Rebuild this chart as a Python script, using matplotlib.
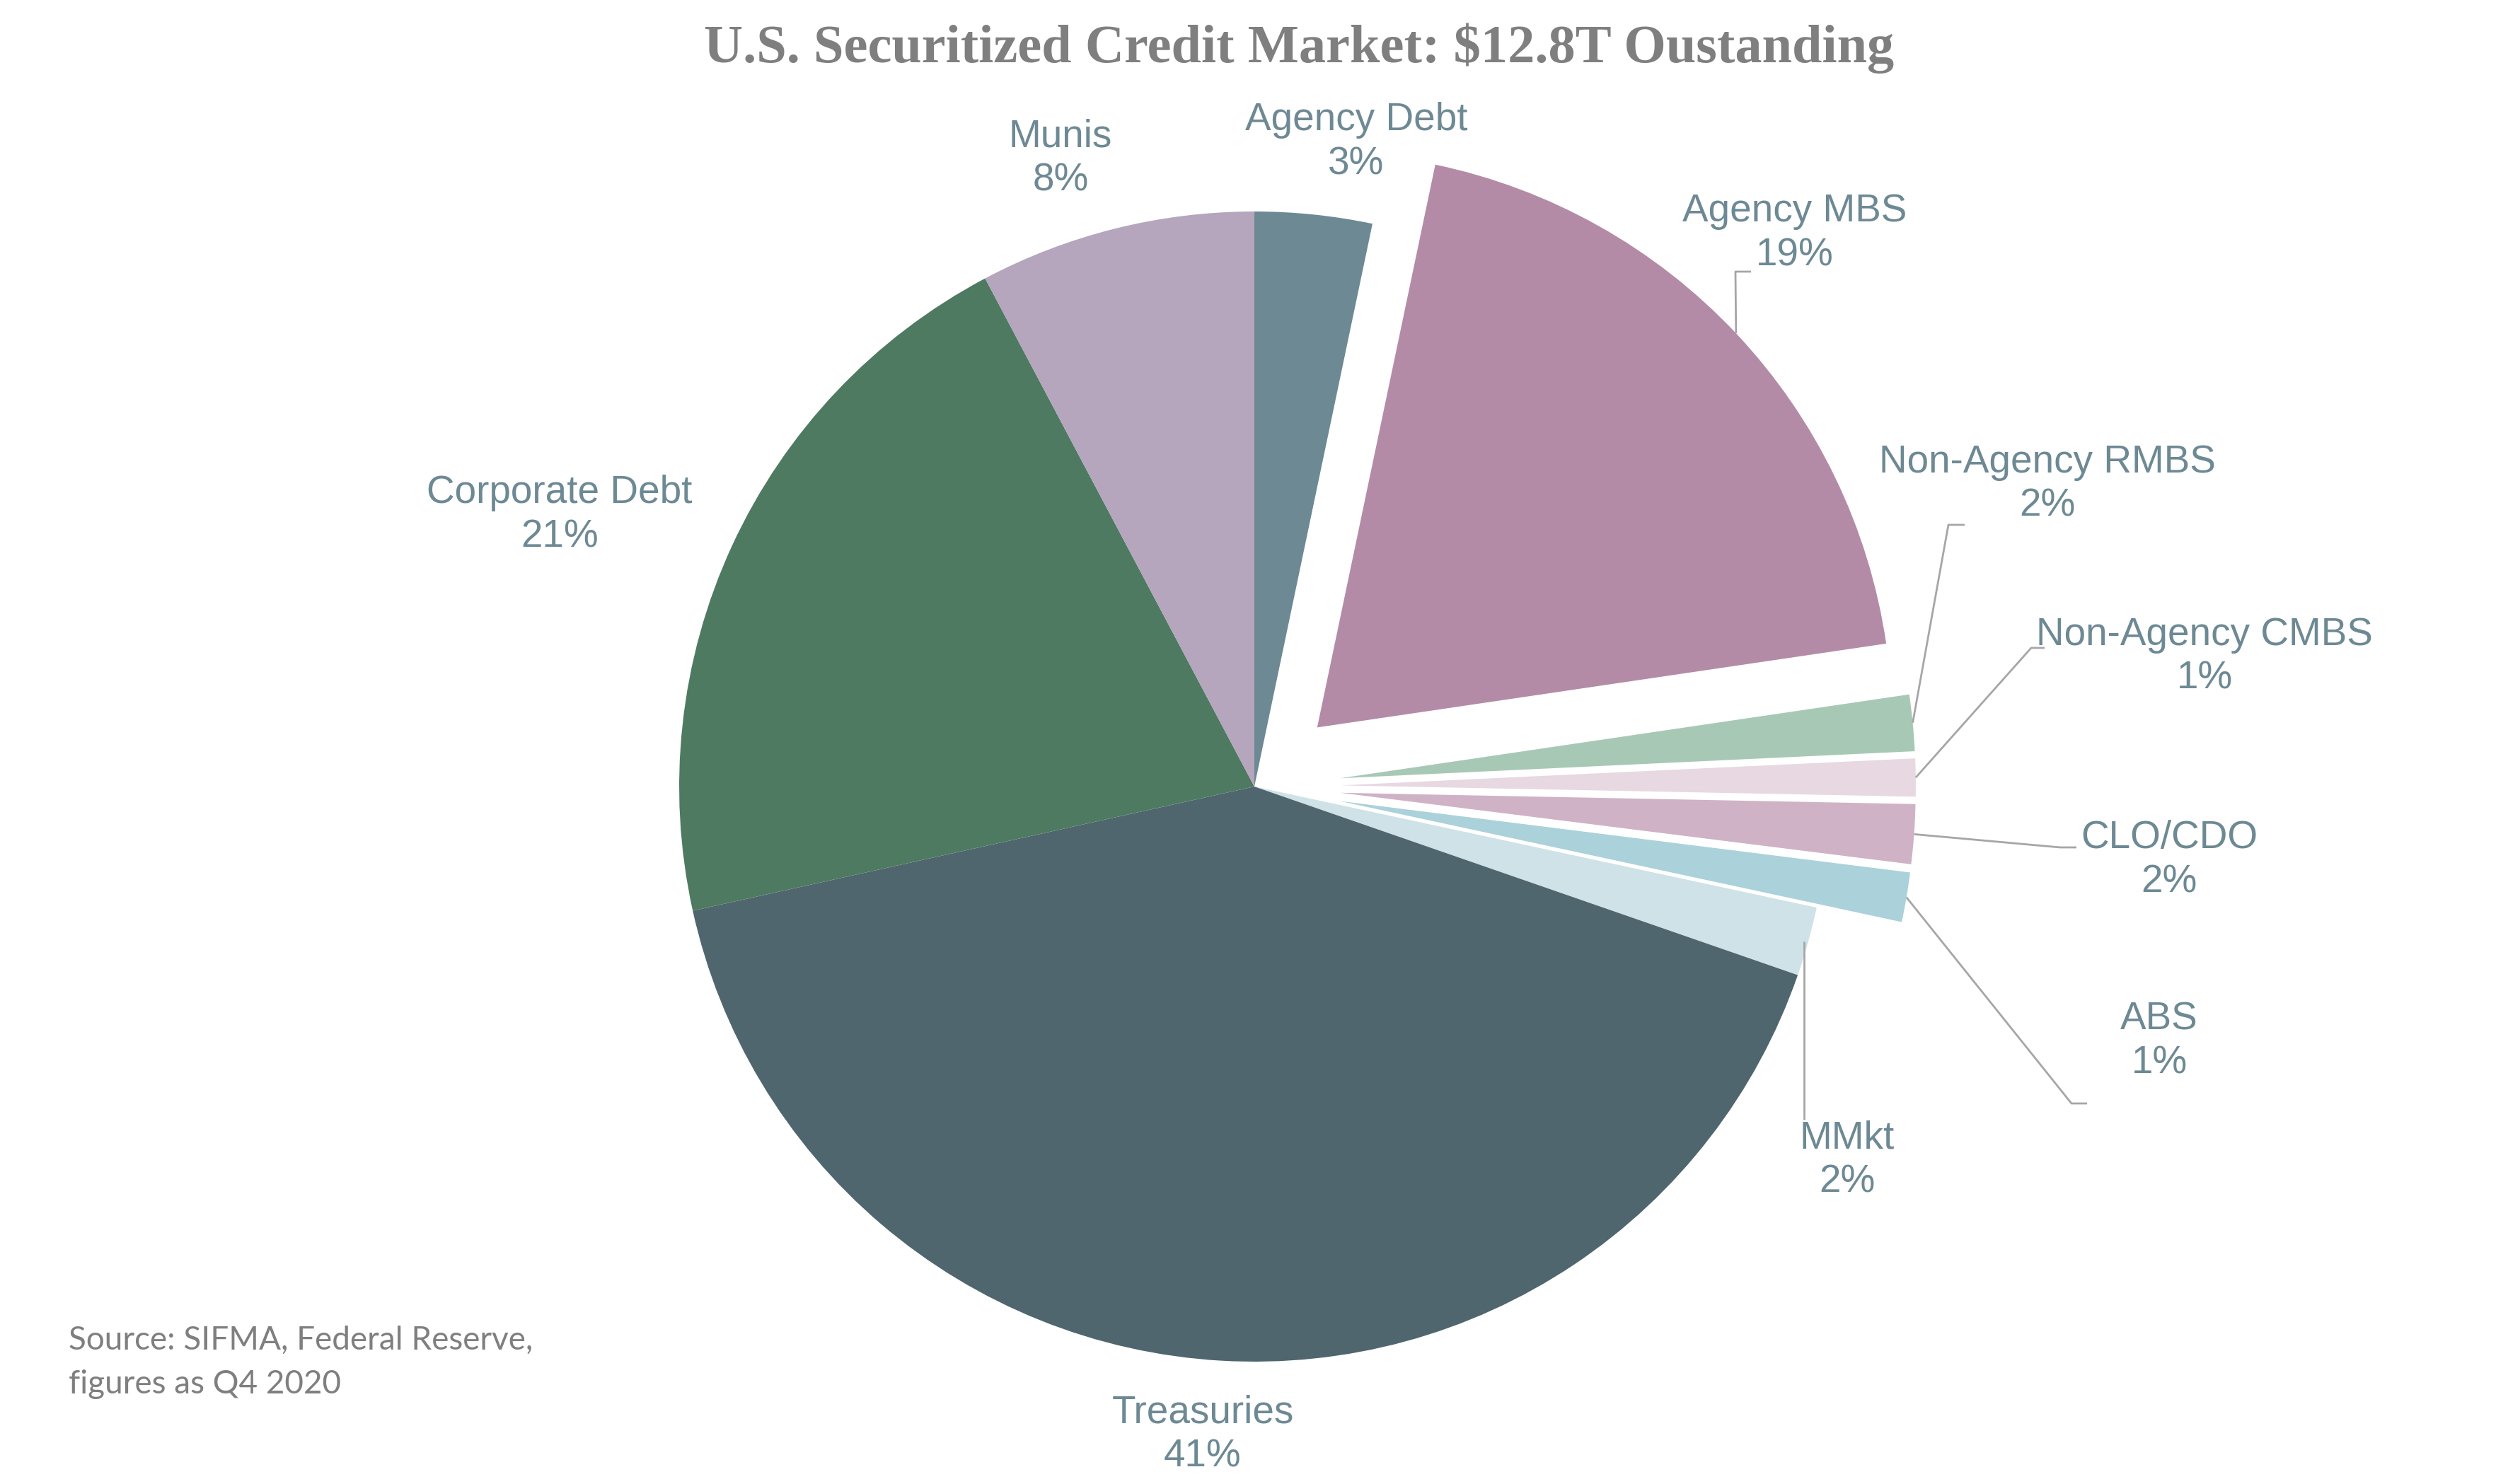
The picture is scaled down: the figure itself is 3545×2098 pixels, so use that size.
import numpy as np
import matplotlib
matplotlib.use("Agg")
import matplotlib.pyplot as plt

# share of outstanding, %, clockwise from 12 o'clock
sectors = ["Agency Debt", "Agency MBS", "Non-Agency RMBS", "Non-Agency CMBS",
           "CLO/CDO", "ABS", "MMkt", "Treasuries", "Corporate Debt", "Munis"]
shares = [3.29, 19.37, 1.58, 1.06, 1.67, 1.39, 1.94, 41.2, 20.7, 7.75]
colors = ["#6d8994", "#b48ba6", "#a8c8b6", "#e7d8e2", "#cfb2c5",
          "#abd1da", "#cfe2e8", "#50666e", "#4e7a62", "#b5a5bd"]
explode = [0, 0.15, 0.15, 0.15, 0.15, 0.15, 0, 0, 0, 0]

W, H = 3545, 2098
CX, CY, R = 1773, 1112, 813   # pie centre / radius in pixels

def px(x, y):
    # pixel position -> data coords (pie radius = 1)
    return (x - CX) / R, (CY - y) / R

fig = plt.figure(figsize=(W / 100, H / 100), dpi=100)
ax = fig.add_axes([0, 0, 1, 1])

wedges, _ = ax.pie(shares, colors=colors, explode=explode, startangle=90,
                   counterclock=False, radius=1, frame=True)
ax.set_xlim(-CX / R, (W - CX) / R)
ax.set_ylim(-(H - CY) / R, CY / R)
ax.set_aspect("auto")
ax.axis("off")

lab_color = "#6d8994"
lab_font = dict(family="Liberation Sans", fontsize=39.5, color=lab_color,
                ha="center", va="center", linespacing=1.25)

# label centres in pixels, plus leader elbow / end (None = no leader)
label_pos = {
    "Munis": ((1499, 224), None),
    "Agency Debt": ((1917, 201), None),
    "Agency MBS": ((2537, 330), [(2453, 384), (2475, 384)]),
    "Non-Agency RMBS": ((2894, 685), [(2754, 742), (2777, 742)]),
    "Non-Agency CMBS": ((3116, 929), [(2871, 916), (2890, 916)]),
    "CLO/CDO": ((3066, 1216), [(2912, 1198), (2935, 1198)]),
    "ABS": ((3052, 1472), [(2928, 1560), (2950, 1560)]),
    "MMkt": ((2611, 1641), [(2550, 1583)]),
    "Corporate Debt": ((791, 728), None),
    "Treasuries": ((1700, 2028), None),
}

for w, name, v in zip(wedges, sectors, shares):
    (lx, ly), leader = label_pos[name]
    ax.text(*px(lx, ly), f"{name}\n{round(v):.0f}%", **lab_font)
    if leader:
        mid = np.deg2rad((w.theta1 + w.theta2) / 2)
        sx = w.center[0] + w.r * np.cos(mid)
        sy = w.center[1] + w.r * np.sin(mid)
        pts = [(sx, sy)] + [px(a, b) for a, b in leader]
        if name == "MMkt":
            pts = [(pts[1][0], sy), pts[1]]
        xs, ys = zip(*pts)
        ax.plot(xs, ys, color="#a6a6a6", lw=2, solid_capstyle="butt")

fig.text(1836 / W, 1 - 68 / H, "U.S. Securitized Credit Market: $12.8T Oustanding",
         family="Liberation Serif", fontweight="bold", fontsize=55,
         color="#7f7f7f", ha="center", va="center")

fig.text(97 / W, 1 - 1926 / H, "Source: SIFMA, Federal Reserve,\nfigures as Q4 2020",
         family="Lato", fontsize=33, color="#7f7f7f", ha="left", va="center",
         linespacing=1.6)

fig.savefig("out.png", dpi=100, facecolor="white")
